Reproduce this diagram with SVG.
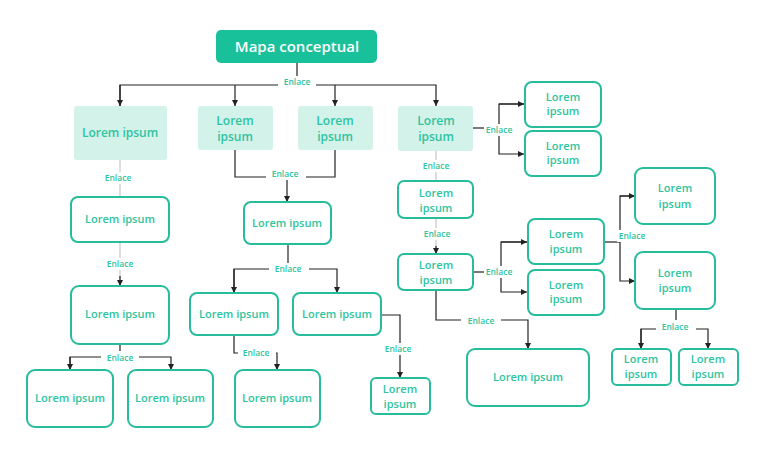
<svg xmlns="http://www.w3.org/2000/svg" width="768" height="466" viewBox="0 0 768 466">
<defs>
<marker id="ar" viewBox="0 0 6 6" refX="6" refY="3" markerWidth="5" markerHeight="5" orient="auto"><path d="M0,0L6,3L0,6z" fill="#222"/></marker>
<style>
.n{fill:#fff;stroke:#26bc9c;stroke-width:2}
.l{fill:#d2f2ea}
.t{font-family:"Open Sans","Noto Sans",sans-serif;font-weight:600;font-size:11px;fill:#2ec4a0;text-anchor:middle}
.lt{font-size:12px}
.e{font-family:"Open Sans","Noto Sans",sans-serif;font-weight:600;font-size:8.5px;fill:#2ec4a0;text-anchor:middle}
.c{fill:none;stroke:#222;stroke-width:1.2}
.g{fill:none;stroke:#bbb;stroke-width:1}
.bg{fill:#fff}
</style>
</defs>
<rect width="768" height="466" fill="#fff"/>
<g id="connectors">
<path class="c" d="M297,63V85"/>
<path class="c" d="M120,106V85H436V106" marker-end="url(#ar)"/>
<path class="c" d="M120,85V106" marker-end="url(#ar)"/>
<path class="c" d="M235,85V106" marker-end="url(#ar)"/>
<path class="c" d="M335,85V106" marker-end="url(#ar)"/>
<path class="g" d="M120,160V197"/>
<path class="g" d="M120,242V286"/><path class="c" d="M120,276V286" marker-end="url(#ar)"/>
<path class="c" d="M120,344V357"/>
<path class="c" d="M70,370V357H171V370" marker-end="url(#ar)"/>
<path class="c" d="M70,357V370" marker-end="url(#ar)"/>
<path class="c" d="M235,150V177H335V150"/>
<path class="c" d="M287,177V202" stroke-width="2" marker-end="url(#ar)"/>
<path class="c" d="M288,244V269"/>
<path class="c" d="M234,293V269H337V293" marker-end="url(#ar)"/>
<path class="c" d="M234,269V293" marker-end="url(#ar)"/>
<path class="c" d="M234,335V353H277V370" marker-end="url(#ar)"/>
<path class="c" d="M381,315H400V378" marker-end="url(#ar)"/>
<path class="c" d="M473,128H499"/>
<path class="c" d="M524,104H499V154H524" marker-end="url(#ar)"/>
<path class="c" d="M499,104H524" marker-end="url(#ar)"/>
<path class="g" d="M436,151V181"/>
<path class="g" d="M436,218V254"/><path class="c" d="M436,246V254" marker-end="url(#ar)"/>
<path class="c" d="M473,272H501"/>
<path class="c" d="M527,242H501V292H527" marker-end="url(#ar)"/>
<path class="c" d="M501,242H527" marker-end="url(#ar)"/>
<path class="c" d="M436,290V320H528V349" marker-end="url(#ar)"/>
<path class="c" d="M604,242H620"/>
<path class="c" d="M635,196H620V281H635" marker-end="url(#ar)"/>
<path class="c" d="M620,196H635" marker-end="url(#ar)"/>
<path class="c" d="M676,309V320"/>
<path class="c" d="M641,349V329H708V349" marker-end="url(#ar)"/>
<path class="c" d="M641,329V349" marker-end="url(#ar)"/>
<g>
<rect class="bg" x="278" y="76" width="38" height="12"/><text class="e" x="297" y="85">Enlace</text>
<rect class="bg" x="101" y="172" width="38" height="12"/><text class="e" x="118" y="181">Enlace</text>
<rect class="bg" x="101" y="258" width="38" height="12"/><text class="e" x="120" y="267">Enlace</text>
<rect class="bg" x="101" y="351" width="38" height="12"/><text class="e" x="120" y="361">Enlace</text>
<rect class="bg" x="266" y="168" width="40" height="12"/><text class="e" x="285" y="177">Enlace</text>
<rect class="bg" x="269" y="263" width="40" height="12"/><text class="e" x="288" y="272">Enlace</text>
<rect class="bg" x="238" y="347" width="38" height="12"/><text class="e" x="256" y="356">Enlace</text>
<rect class="bg" x="380" y="343" width="38" height="12"/><text class="e" x="398" y="352">Enlace</text>
<rect class="bg" x="484" y="124" width="30" height="12"/><text class="e" x="499" y="133">Enlace</text>
<rect class="bg" x="417" y="160" width="38" height="12"/><text class="e" x="436" y="169">Enlace</text>
<rect class="bg" x="417" y="228" width="38" height="12"/><text class="e" x="437" y="237">Enlace</text>
<rect class="bg" x="484" y="266" width="32" height="12"/><text class="e" x="499" y="275">Enlace</text>
<rect class="bg" x="461" y="315" width="40" height="12"/><text class="e" x="481" y="324">Enlace</text>
<rect class="bg" x="617" y="230" width="30" height="12"/><text class="e" x="632" y="239">Enlace</text>
<rect class="bg" x="656" y="321" width="40" height="12"/><text class="e" x="675" y="330">Enlace</text>
</g>
</g>
<g id="title"><rect x="216" y="30" width="161" height="33" rx="5" fill="#19c19a"/><text x="297" y="52" font-family="'Open Sans','Noto Sans',sans-serif" font-weight="600" font-size="15" fill="#fff" text-anchor="middle">Mapa conceptual</text></g>
<g id="A"><rect class="l" x="74" y="106" width="93" height="54" rx="3"/><text class="t lt" x="120" y="137">Lorem ipsum</text></g>
<g id="B"><rect class="l" x="198" y="106" width="75" height="44" rx="3"/><text class="t lt" x="235" y="125">Lorem</text><text class="t lt" x="235" y="141">ipsum</text></g>
<g id="C"><rect class="l" x="298" y="106" width="75" height="44" rx="3"/><text class="t lt" x="335" y="125">Lorem</text><text class="t lt" x="335" y="141">ipsum</text></g>
<g id="D"><rect class="l" x="398" y="106" width="75" height="45" rx="3"/><text class="t lt" x="436" y="125">Lorem</text><text class="t lt" x="436" y="141">ipsum</text></g>
<g id="A2"><rect class="n" x="71" y="197" width="98" height="45" rx="7"/><text class="t" x="120" y="223">Lorem ipsum</text></g>
<g id="A3"><rect class="n" x="71" y="286" width="98" height="58" rx="8"/><text class="t" x="120" y="318">Lorem ipsum</text></g>
<g id="A4"><rect class="n" x="27" y="370" width="86" height="57" rx="8"/><text class="t" x="70" y="402">Lorem ipsum</text></g>
<g id="A5"><rect class="n" x="128" y="370" width="85" height="57" rx="8"/><text class="t" x="170" y="402">Lorem ipsum</text></g>
<g id="BC"><rect class="n" x="244" y="202" width="87" height="42" rx="7"/><text class="t" x="287" y="227">Lorem ipsum</text></g>
<g id="BC1"><rect class="n" x="190" y="293" width="88" height="42" rx="7"/><text class="t" x="234" y="318">Lorem ipsum</text></g>
<g id="BC2"><rect class="n" x="293" y="293" width="88" height="42" rx="7"/><text class="t" x="337" y="318">Lorem ipsum</text></g>
<g id="BC1a"><rect class="n" x="235" y="370" width="85" height="57" rx="8"/><text class="t" x="277" y="402">Lorem ipsum</text></g>
<g id="BC2a"><rect class="n" x="371" y="378" width="59" height="36" rx="5"/><text class="t" x="400" y="393">Lorem</text><text class="t" x="400" y="408">ipsum</text></g>
<g id="D1"><rect class="n" x="525" y="82" width="76" height="45" rx="7"/><text class="t" x="563" y="101">Lorem</text><text class="t" x="563" y="115">ipsum</text></g>
<g id="D2"><rect class="n" x="525" y="131" width="76" height="45" rx="7"/><text class="t" x="563" y="150">Lorem</text><text class="t" x="563" y="164">ipsum</text></g>
<g id="D3"><rect class="n" x="398" y="181" width="75" height="37" rx="6"/><text class="t" x="436" y="197">Lorem</text><text class="t" x="436" y="212">ipsum</text></g>
<g id="D4"><rect class="n" x="398" y="254" width="75" height="36" rx="6"/><text class="t" x="436" y="269">Lorem</text><text class="t" x="436" y="284">ipsum</text></g>
<g id="E1"><rect class="n" x="528" y="219" width="76" height="45" rx="7"/><text class="t" x="566" y="238">Lorem</text><text class="t" x="566" y="253">ipsum</text></g>
<g id="E2"><rect class="n" x="528" y="270" width="76" height="45" rx="7"/><text class="t" x="566" y="289">Lorem</text><text class="t" x="566" y="303">ipsum</text></g>
<g id="F"><rect class="n" x="467" y="349" width="122" height="57" rx="8"/><text class="t" x="528" y="381">Lorem ipsum</text></g>
<g id="G1"><rect class="n" x="635" y="168" width="80" height="56" rx="8"/><text class="t" x="675" y="192">Lorem</text><text class="t" x="675" y="208">ipsum</text></g>
<g id="G2"><rect class="n" x="635" y="252" width="80" height="57" rx="8"/><text class="t" x="675" y="277">Lorem</text><text class="t" x="675" y="292">ipsum</text></g>
<g id="H1"><rect class="n" x="612" y="349" width="59" height="36" rx="5"/><text class="t" x="641" y="363">Lorem</text><text class="t" x="641" y="378">ipsum</text></g>
<g id="H2"><rect class="n" x="679" y="349" width="59" height="36" rx="5"/><text class="t" x="708" y="363">Lorem</text><text class="t" x="708" y="378">ipsum</text></g>
</svg>
